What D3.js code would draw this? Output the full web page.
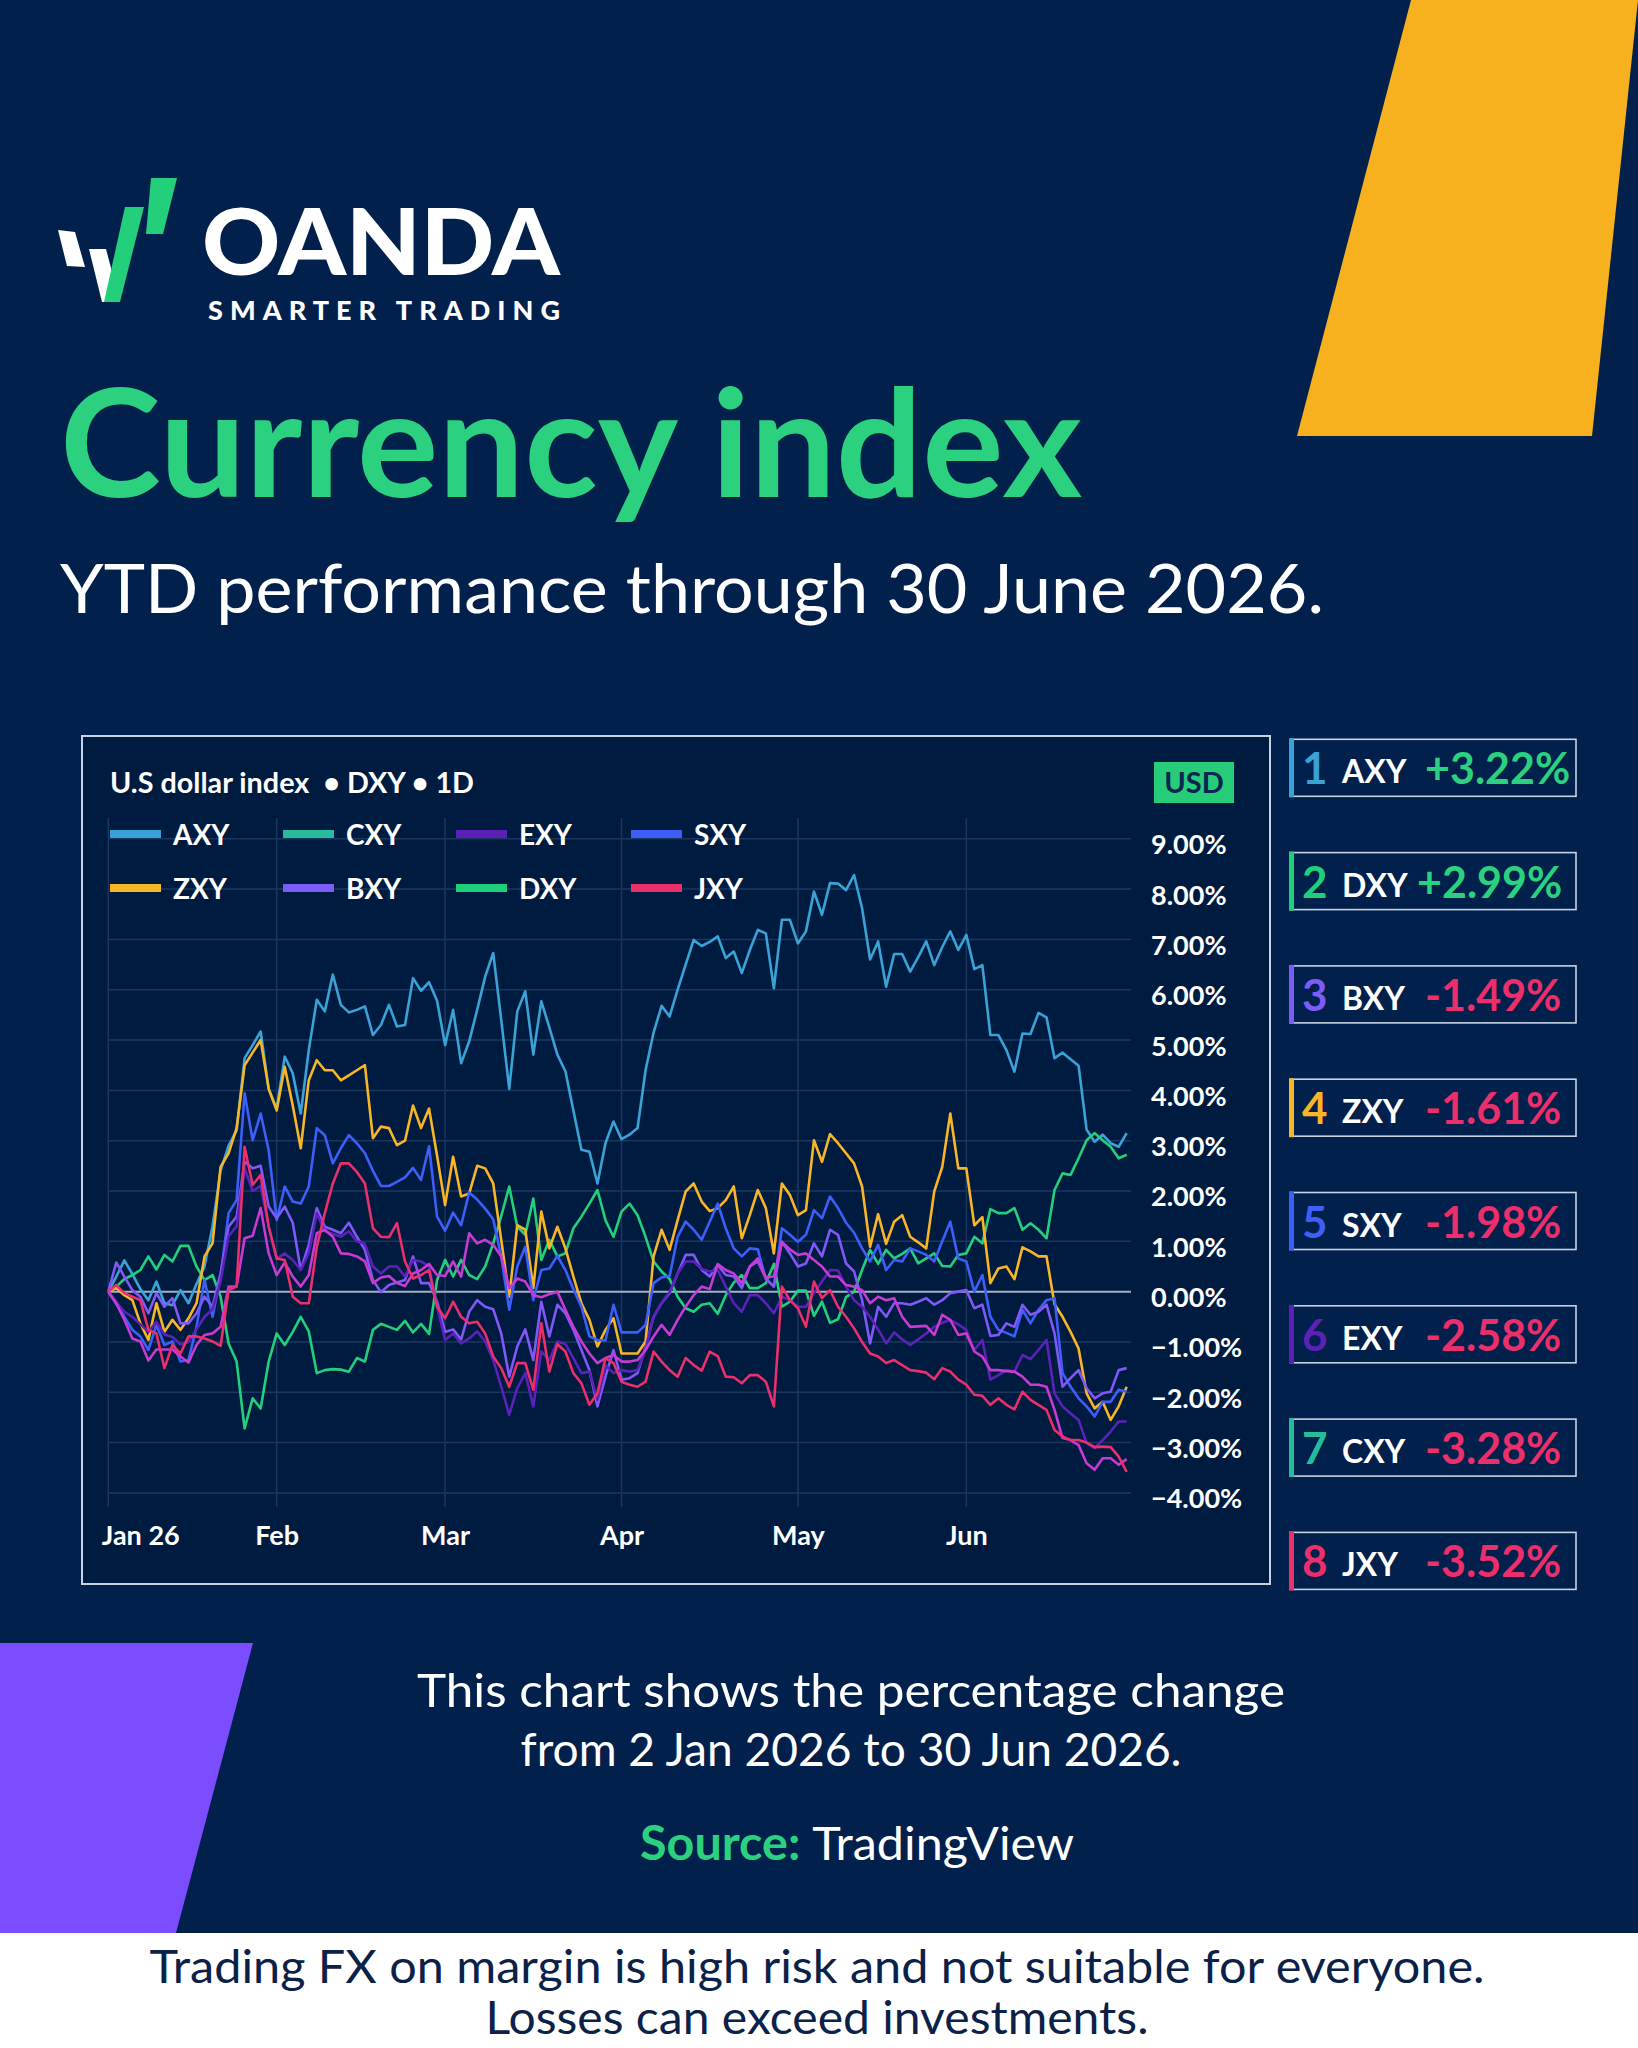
<!doctype html>
<html lang="en">
<head>
<meta charset="utf-8">
<title>Currency index YTD</title>
<script src="https://cdn.jsdelivr.net/npm/d3@7/dist/d3.min.js"></script>
<style>
  html, body {margin:0; padding:0; background:#01204b;}
  svg {display:block;}
  text {font-family: Lato, "Noto Sans", sans-serif;}
</style>
</head>
<body>
<script>
// ---- data (percent change since 2 Jan 2026, one value per trading day) ----
const axy = [0.00,0.30,0.62,0.35,0.05,-0.17,0.20,-0.23,-0.27,0.03,-0.23,0.15,0.50,1.30,2.40,2.90,3.20,4.64,4.90,5.17,
  4.03,3.64,4.67,4.34,3.54,4.80,5.80,5.57,6.30,5.70,5.55,5.60,5.67,5.10,5.30,5.70,5.27,5.30,6.23,5.98,
  6.15,5.78,4.90,5.60,4.54,4.97,5.60,6.26,6.73,5.40,4.03,5.57,5.97,4.71,5.77,5.25,4.71,4.38,3.60,2.82,
  2.78,2.15,2.95,3.38,3.03,3.12,3.25,4.40,5.15,5.68,5.47,6.00,6.50,6.99,6.87,6.95,7.06,6.63,6.76,6.33,
  6.79,7.19,7.12,6.03,7.39,7.39,6.92,7.16,7.95,7.49,8.12,8.11,7.98,8.28,7.62,6.60,6.96,6.06,6.71,6.71,
  6.36,6.65,6.96,6.49,6.85,7.16,6.79,7.09,6.41,6.49,5.10,5.10,4.80,4.37,5.13,5.12,5.54,5.45,4.64,4.75,
  4.62,4.49,3.22,2.98,3.12,2.95,2.88,3.15];
const dxy = [0.00,0.10,0.25,0.33,0.43,0.70,0.44,0.73,0.60,0.91,0.91,0.50,0.23,0.33,-0.10,-1.03,-1.39,-2.72,-2.12,-2.32,
  -1.39,-0.83,-1.06,-0.80,-0.50,-0.79,-1.62,-1.56,-1.54,-1.55,-1.59,-1.32,-1.39,-0.76,-0.64,-0.70,-0.76,-0.58,-0.81,-0.64,
  -0.84,0.23,0.63,0.30,0.63,0.33,0.25,0.50,0.96,1.50,2.09,1.29,1.13,1.85,0.63,1.03,0.70,0.76,1.26,1.49,
  1.75,2.02,1.42,1.09,1.59,1.75,1.52,1.09,0.60,0.40,0.25,-0.10,-0.33,-0.40,-0.26,-0.23,-0.44,-0.07,0.18,0.33,
  0.07,0.07,0.17,0.55,-0.30,-0.20,0.02,0.02,-0.48,-0.20,-0.62,-0.55,-0.11,0.00,0.43,0.83,0.55,0.83,0.66,0.75,
  0.86,0.56,0.66,0.76,0.51,0.50,0.73,0.76,1.09,0.96,1.64,1.56,1.56,1.66,1.23,1.36,1.23,1.06,2.02,2.35,
  2.32,2.65,3.01,3.15,3.01,2.88,2.65,2.72];
const zxy = [0.00,0.07,-0.07,-0.17,-0.63,-0.96,-0.23,-0.80,-0.56,-0.76,-0.53,-0.23,0.70,0.96,2.48,2.75,3.25,4.50,4.75,5.00,
  4.03,3.60,4.47,3.70,2.85,4.20,4.60,4.40,4.40,4.20,4.30,4.40,4.50,3.05,3.28,3.25,2.91,3.00,3.70,3.25,
  3.64,2.70,1.72,2.68,1.89,1.95,2.50,2.45,2.15,1.03,-0.10,1.32,1.23,0.07,1.59,0.86,1.29,0.86,0.30,-0.23,
  -0.56,-1.09,-0.76,-0.53,-1.23,-1.23,-1.23,-0.99,0.70,1.23,0.83,1.42,1.99,2.15,1.79,1.60,1.66,1.82,2.09,1.06,
  1.52,2.02,1.66,0.76,2.15,1.92,1.52,1.62,3.01,2.58,3.13,2.95,2.75,2.55,2.09,0.89,1.54,0.95,1.39,1.52,
  1.09,0.98,0.86,1.99,2.48,3.54,2.45,2.45,1.32,1.48,0.17,0.46,0.50,0.25,0.88,0.80,0.70,0.70,-0.25,-0.50,
  -0.80,-1.13,-2.02,-2.32,-2.19,-2.55,-2.28,-1.89];
const sxy = [0.00,-0.25,-0.50,-0.76,-0.89,-1.16,-0.66,-1.06,-0.99,-1.39,-1.36,-0.70,0.23,-0.50,0.30,1.56,1.82,3.94,3.01,3.54,
  2.81,1.42,2.09,1.79,1.75,2.09,3.25,3.11,2.55,2.85,3.11,2.95,2.75,2.40,2.10,2.10,2.18,2.27,2.46,2.22,
  2.89,1.49,1.21,1.57,1.32,1.97,1.83,1.65,1.44,0.70,-0.36,0.50,0.89,-0.17,0.43,0.46,0.71,0.43,0.05,-0.30,
  -0.89,-0.96,-0.97,-0.26,-0.81,-0.81,-0.81,-0.66,0.17,0.28,0.31,1.09,1.39,1.23,1.03,1.39,1.75,1.26,0.86,0.70,
  0.86,0.84,0.25,0.10,1.26,1.13,0.99,1.13,1.62,1.46,1.89,1.66,1.37,1.17,0.86,0.60,0.93,0.43,0.63,0.60,
  0.86,0.80,0.73,0.60,1.00,1.39,0.66,0.60,0.00,0.33,-0.50,-0.76,-0.82,-0.89,-0.36,-0.63,-0.36,-0.17,-0.13,-1.62,
  -1.89,-2.12,-2.28,-2.48,-2.19,-2.19,-1.95,-1.99];
const bxy = [0.00,0.58,0.30,0.03,-0.10,-0.43,-0.03,-0.30,-0.13,-0.63,-0.63,-0.43,-0.10,-0.30,0.36,1.29,1.49,2.58,2.45,2.50,
  1.69,1.46,1.69,1.37,0.43,0.93,1.66,1.29,1.23,1.16,1.37,1.09,0.83,0.23,-0.01,0.13,0.18,0.23,0.70,0.17,
  0.17,-0.20,-0.80,-0.75,-0.95,-0.40,-0.17,-0.30,-0.35,-0.83,-1.69,-1.09,-0.75,-1.36,-0.20,-0.89,-0.26,-0.43,-0.76,-1.16,
  -1.56,-2.28,-1.69,-1.16,-1.75,-1.72,-1.62,-1.10,-0.50,-0.23,-0.03,0.36,0.73,0.73,0.43,0.30,0.53,0.33,0.30,0.07,
  0.50,0.60,0.26,0.10,0.99,0.76,0.50,0.56,0.96,0.70,1.23,1.13,0.56,0.40,-0.17,-1.03,-0.30,-0.50,-0.23,-0.23,
  -0.26,-0.20,-0.13,-0.26,-0.17,-0.03,0.00,0.03,-0.33,-0.26,-0.88,-0.86,-0.63,-0.70,-0.26,-0.46,-0.40,-0.26,-0.83,-1.89,
  -1.72,-1.56,-1.92,-2.12,-2.02,-1.99,-1.56,-1.52];
const exy = [0.00,-0.20,-0.40,-0.50,-0.65,-0.80,-0.60,-0.85,-0.90,-1.05,-1.00,-0.75,-0.50,-0.35,0.20,1.10,1.30,2.45,2.00,2.10,
  1.30,0.65,0.76,0.63,0.43,0.76,1.56,1.20,1.15,1.09,1.20,1.00,0.95,0.50,0.36,0.50,0.50,0.30,0.63,0.60,
  0.50,-0.30,-0.96,-0.83,-1.03,-0.93,-0.79,-0.99,-1.36,-1.89,-2.45,-1.92,-1.62,-2.28,-1.19,-1.36,-0.99,-1.04,-1.32,-1.62,
  -1.59,-2.15,-1.46,-1.62,-1.56,-1.59,-1.56,-1.16,-0.50,-0.23,0.00,0.36,0.60,0.60,0.45,0.40,0.43,0.10,-0.23,-0.40,
  -0.07,-0.07,-0.23,-0.43,-0.10,-0.17,-0.30,-0.30,-0.03,0.20,0.43,0.42,0.10,-0.17,-0.30,-0.50,-0.75,-1.03,-0.81,-0.95,
  -1.06,-0.95,-0.83,-0.70,-0.62,-0.56,-0.65,-0.76,-1.16,-0.96,-1.75,-1.66,-1.56,-1.59,-1.26,-1.34,-1.16,-0.96,-2.02,-2.28,
  -2.42,-2.55,-3.01,-3.11,-2.95,-2.78,-2.58,-2.58];
const cxy = [0.00,-0.23,-0.56,-0.93,-0.99,-1.37,-1.15,-1.15,-1.15,-1.29,-1.41,-1.06,-0.86,-0.83,-0.70,0.10,0.10,1.06,1.11,1.66,
  0.76,0.33,0.58,0.30,0.10,0.33,1.16,1.23,1.09,0.76,0.75,0.70,0.60,0.17,0.28,0.31,0.17,0.11,0.36,0.43,
  0.55,0.33,0.31,0.60,0.30,1.16,0.96,1.03,0.93,0.70,0.07,0.26,0.20,-0.07,-0.11,-0.05,0.00,-0.36,-0.70,-0.99,
  -1.23,-1.42,-1.32,-1.26,-1.39,-1.39,-1.36,-1.16,-0.89,-0.66,-0.86,-0.56,-0.30,-0.07,0.10,0.05,0.55,0.43,0.36,0.17,
  0.50,0.66,0.28,0.30,0.99,0.84,0.73,0.76,0.63,0.50,0.30,0.30,0.13,0.10,0.03,-0.23,-0.10,-0.17,-0.13,-0.50,
  -0.70,-0.69,-0.68,-0.86,-0.46,-0.56,-0.86,-0.83,-1.19,-1.29,-1.56,-1.56,-1.58,-1.59,-1.69,-1.85,-1.85,-1.89,-2.35,-2.91,
  -2.95,-3.05,-3.41,-3.54,-3.31,-3.31,-3.44,-3.33];
const jxy = [0.00,0.13,-0.03,-0.10,-0.17,-0.76,-0.83,-1.52,-1.06,-1.23,-0.89,-0.89,-0.93,-0.99,-1.08,0.03,0.10,2.88,2.12,2.32,
  1.29,0.66,0.63,-0.10,-0.23,-0.23,0.89,1.56,2.15,2.55,2.55,2.38,2.15,1.26,1.09,1.08,1.36,0.60,0.26,0.33,
  0.43,-0.30,-0.53,-0.20,-0.50,-0.63,-0.60,-0.83,-1.29,-1.52,-1.89,-1.42,-1.42,-1.95,-0.63,-1.59,-1.04,-1.19,-1.62,-1.82,
  -2.25,-2.02,-1.32,-1.42,-1.79,-1.85,-1.89,-1.79,-1.19,-1.39,-1.56,-1.69,-1.32,-1.46,-1.57,-1.19,-1.28,-1.69,-1.70,-1.82,
  -1.66,-1.66,-1.79,-2.28,0.10,-0.17,-0.33,-0.70,0.20,-0.13,0.03,-0.30,-0.50,-0.73,-1.00,-1.23,-1.29,-1.42,-1.36,-1.46,
  -1.56,-1.58,-1.61,-1.74,-1.52,-1.59,-1.75,-1.85,-2.05,-2.07,-2.25,-2.12,-2.25,-2.34,-1.99,-2.15,-2.25,-2.35,-2.75,-2.88,
  -2.95,-2.95,-3.00,-3.09,-3.08,-3.09,-3.28,-3.58];

// drawing order and colours of the plotted lines
const seriesNames  = ["AXY","DXY","ZXY","SXY","BXY","EXY","CXY","JXY"];
const seriesValues = [axy, dxy, zxy, sxy, bxy, exy, cxy, jxy];
const lineColors   = ["#3aa2d6","#24cf7c","#f8b526","#3d5ef7","#8157f6","#5a22b8","#c83ad2","#ea2f6b"];

// legend, as printed (two rows of four)
const legendNames  = ["AXY","CXY","EXY","SXY","ZXY","BXY","DXY","JXY"];
const legendColors = ["#38a2d6","#27bd9c","#5b21b6","#3d5ef7","#f8b526","#7c5cf7","#1fd07a","#ea2f6b"];

// x ticks: bar index of each month start
const tickBars   = [0, 21, 42, 64, 86, 107];
const tickLabels = ["Jan 26","Feb","Mar","Apr","May","Jun"];
const yTicks     = [-4,-3,-2,-1,0,1,2,3,4,5,6,7,8,9];

// ranking panel
const rankNames   = ["AXY","DXY","BXY","ZXY","SXY","EXY","CXY","JXY"];
const rankChanges = [3.22, 2.99, -1.49, -1.61, -1.98, -2.58, -3.28, -3.52];
const rankColors  = ["#3aa2d6","#1fd07a","#7c5cf7","#f8b526","#3d5ef7","#5b21b6","#27bd9c","#ea2f6b"];

// ---- layout ----
const W = 1638, H = 2048;
const green = "#2bd17e", pink = "#ea2f6b", navy = "#01204b";

const svg = d3.select("body").append("svg")
  .attr("width", W).attr("height", H)
  .attr("viewBox", `0 0 ${W} ${H}`);

svg.append("rect").attr("width", W).attr("height", H).attr("fill", navy);

// decorative shapes
svg.append("polygon").attr("points", "1411,0 1638,0 1592,436 1297,436").attr("fill", "#f7b11e");
svg.append("polygon").attr("points", "0,1643 253,1643 176,1933 0,1933").attr("fill", "#7c4dff");

// logo
const logo = svg.append("g");
logo.append("polygon").attr("points", "58,230 75,232 85,267 67,266").attr("fill", "#fff");
logo.append("polygon").attr("points", "89,249 106,249 120,302 102,302").attr("fill", "#fff");
logo.append("polygon").attr("points", "125,207 144,207 120,302 104,302").attr("fill", "#24cf7c");
logo.append("polygon").attr("points", "151,178 177,178 163,234 146,234").attr("fill", "#24cf7c");
logo.append("text").attr("x", 202).attr("y", 275)
  .attr("font-size", 92).attr("font-weight", 900).attr("fill", "#fff")
  .attr("textLength", 358).attr("lengthAdjust", "spacingAndGlyphs")
  .text("OANDA");
logo.append("text").attr("x", 208).attr("y", 320)
  .attr("font-size", 27).attr("font-weight", 900).attr("fill", "#fff")
  .attr("textLength", 352).attr("lengthAdjust", "spacing")
  .text("SMARTER TRADING");

// headings
svg.append("text").attr("x", 60).attr("y", 497)
  .attr("font-size", 150).attr("font-weight", 700).attr("fill", green)
  .attr("textLength", 1022).attr("lengthAdjust", "spacingAndGlyphs")
  .text("Currency index");
svg.append("text").attr("x", 60).attr("y", 613)
  .attr("font-size", 67).attr("fill", "#fff")
  .attr("textLength", 1264).attr("lengthAdjust", "spacingAndGlyphs")
  .text("YTD performance through 30 June 2026.");

// ---- chart panel ----
svg.append("rect").attr("x", 82).attr("y", 736).attr("width", 1188).attr("height", 848)
  .attr("fill", "#001b40").attr("stroke", "#c9d2e3").attr("stroke-width", 2);

const x = d3.scaleLinear().domain([0, axy.length - 1]).range([108.3, 1126.7]);
const y = d3.scaleLinear().domain([-4, 9]).range([1492.9, 838.8]);

const chart = svg.append("g");

// vertical grid
chart.append("g").selectAll("line").data(tickBars).join("line")
  .attr("x1", d => x(d)).attr("x2", d => x(d))
  .attr("y1", 818).attr("y2", 1507)
  .attr("stroke", "#1b3760").attr("stroke-width", 1.5);

// horizontal grid
chart.append("g").selectAll("line").data(yTicks).join("line")
  .attr("x1", 108).attr("x2", 1131)
  .attr("y1", d => y(d)).attr("y2", d => y(d))
  .attr("stroke", d => d === 0 ? "#a7b1c3" : "#1b3760")
  .attr("stroke-width", d => d === 0 ? 2 : 1.5);

// y axis on the right, drawn with d3.axisRight and restyled
const yAxis = d3.axisRight(y).tickValues(yTicks).tickSize(0).tickPadding(0)
  .tickFormat(d => d3.format(".2f")(d) + "%");
chart.append("g").attr("transform", "translate(1151,0)").call(yAxis)
  .call(g => g.select(".domain").remove())
  .call(g => g.selectAll("text")
    .attr("fill", "#fff").attr("font-size", 27).attr("font-weight", 700)
    .attr("font-family", "Lato, 'Noto Sans', sans-serif")
    .attr("dy", "0.85em").attr("y", -8));

// x axis labels
const xAxis = d3.axisBottom(x).tickValues(tickBars).tickSize(0).tickPadding(0)
  .tickFormat((d, i) => tickLabels[i]);
chart.append("g").attr("transform", "translate(0,1525)").call(xAxis)
  .call(g => g.select(".domain").remove())
  .call(g => g.selectAll("text")
    .attr("fill", "#fff").attr("font-size", 27).attr("font-weight", 700)
    .attr("font-family", "Lato, 'Noto Sans', sans-serif")
    .attr("dy", "0.75em"))
  .call(g => g.select(".tick text").attr("text-anchor", "start").attr("dx", -7));

// lines
const line = d3.line().x((d, i) => x(i)).y(d => y(d));
chart.append("g").selectAll("path").data(seriesValues).join("path")
  .attr("d", line)
  .attr("fill", "none")
  .attr("stroke", (d, i) => lineColors[i])
  .attr("stroke-width", 2.6)
  .attr("stroke-linejoin", "round");

// chart header
chart.append("text").attr("x", 110).attr("y", 793)
  .attr("font-size", 28).attr("font-weight", 700).attr("fill", "#fff")
  .attr("xml:space", "preserve")
  .attr("textLength", 364).attr("lengthAdjust", "spacingAndGlyphs")
  .text("U.S dollar index  \u2022 DXY \u2022 1D");
chart.append("rect").attr("x", 1154).attr("y", 762).attr("width", 80).attr("height", 41).attr("fill", "#26cc78");
chart.append("text").attr("x", 1194).attr("y", 793).attr("text-anchor", "middle")
  .attr("font-size", 29).attr("font-weight", 700).attr("fill", "#0b2550")
  .text("USD");

// legend
const legCols = [110, 283, 456, 631];
const legRows = [845, 899];
const leg = chart.append("g").selectAll("g").data(legendNames).join("g")
  .attr("transform", (d, i) => `translate(${legCols[i % 4]},${legRows[Math.floor(i / 4)]})`);
leg.append("rect").attr("x", 0).attr("y", -15).attr("width", 51).attr("height", 8)
  .attr("fill", (d, i) => legendColors[i]);
leg.append("text").attr("x", 63).attr("y", 0)
  .attr("font-size", 28).attr("font-weight", 700).attr("fill", "#fff")
  .text(d => d);

// ---- ranking panel ----
const rank = svg.append("g").selectAll("g").data(rankNames).join("g")
  .attr("transform", (d, i) => `translate(1290,${739.3 + i * 113.3})`);
rank.append("rect").attr("x", 0).attr("y", 0).attr("width", 286).attr("height", 57)
  .attr("fill", "none").attr("stroke", "#c9d2e3").attr("stroke-width", 1.6);
rank.append("rect").attr("x", -1).attr("y", -1).attr("width", 5).attr("height", 59)
  .attr("fill", (d, i) => rankColors[i]);
rank.append("text").attr("x", 12).attr("y", 45)
  .attr("font-size", 44).attr("font-weight", 700).attr("fill", (d, i) => rankColors[i])
  .text((d, i) => i + 1);
rank.append("text").attr("x", 52).attr("y", 44)
  .attr("font-size", 32).attr("font-weight", 700).attr("fill", "#fff")
  .text(d => d);
rank.append("text").attr("x", (d, i) => i === 1 ? 127 : 135).attr("y", 45)
  .attr("font-size", 43).attr("font-weight", 700)
  .attr("fill", (d, i) => rankChanges[i] >= 0 ? green : pink)
  .text((d, i) => (rankChanges[i] >= 0 ? "+" : "-") + Math.abs(rankChanges[i]).toFixed(2) + "%");

// ---- notes ----
svg.append("text").attr("x", 851).attr("y", 1707).attr("text-anchor", "middle")
  .attr("font-size", 47).attr("fill", "#fff")
  .attr("textLength", 868).attr("lengthAdjust", "spacingAndGlyphs")
  .text("This chart shows the percentage change");
svg.append("text").attr("x", 851).attr("y", 1766).attr("text-anchor", "middle")
  .attr("font-size", 47).attr("fill", "#fff")
  .attr("textLength", 661).attr("lengthAdjust", "spacingAndGlyphs")
  .text("from 2 Jan 2026 to 30 Jun 2026.");
const src = svg.append("text").attr("x", 857).attr("y", 1860).attr("text-anchor", "middle")
  .attr("font-size", 47)
  .attr("textLength", 434).attr("lengthAdjust", "spacingAndGlyphs");
src.append("tspan").attr("fill", green).attr("font-weight", 700).text("Source: ");
src.append("tspan").attr("fill", "#fff").text("TradingView");

// footer band
svg.append("rect").attr("x", 0).attr("y", 1933).attr("width", W).attr("height", H - 1933).attr("fill", "#fff");
svg.append("text").attr("x", 817).attr("y", 1983).attr("text-anchor", "middle")
  .attr("font-size", 46).attr("fill", "#0b2148")
  .attr("textLength", 1335).attr("lengthAdjust", "spacingAndGlyphs")
  .text("Trading FX on margin is high risk and not suitable for everyone.");
svg.append("text").attr("x", 817).attr("y", 2034).attr("text-anchor", "middle")
  .attr("font-size", 46).attr("fill", "#0b2148")
  .attr("textLength", 663).attr("lengthAdjust", "spacingAndGlyphs")
  .text("Losses can exceed investments.");
</script>
</body>
</html>
